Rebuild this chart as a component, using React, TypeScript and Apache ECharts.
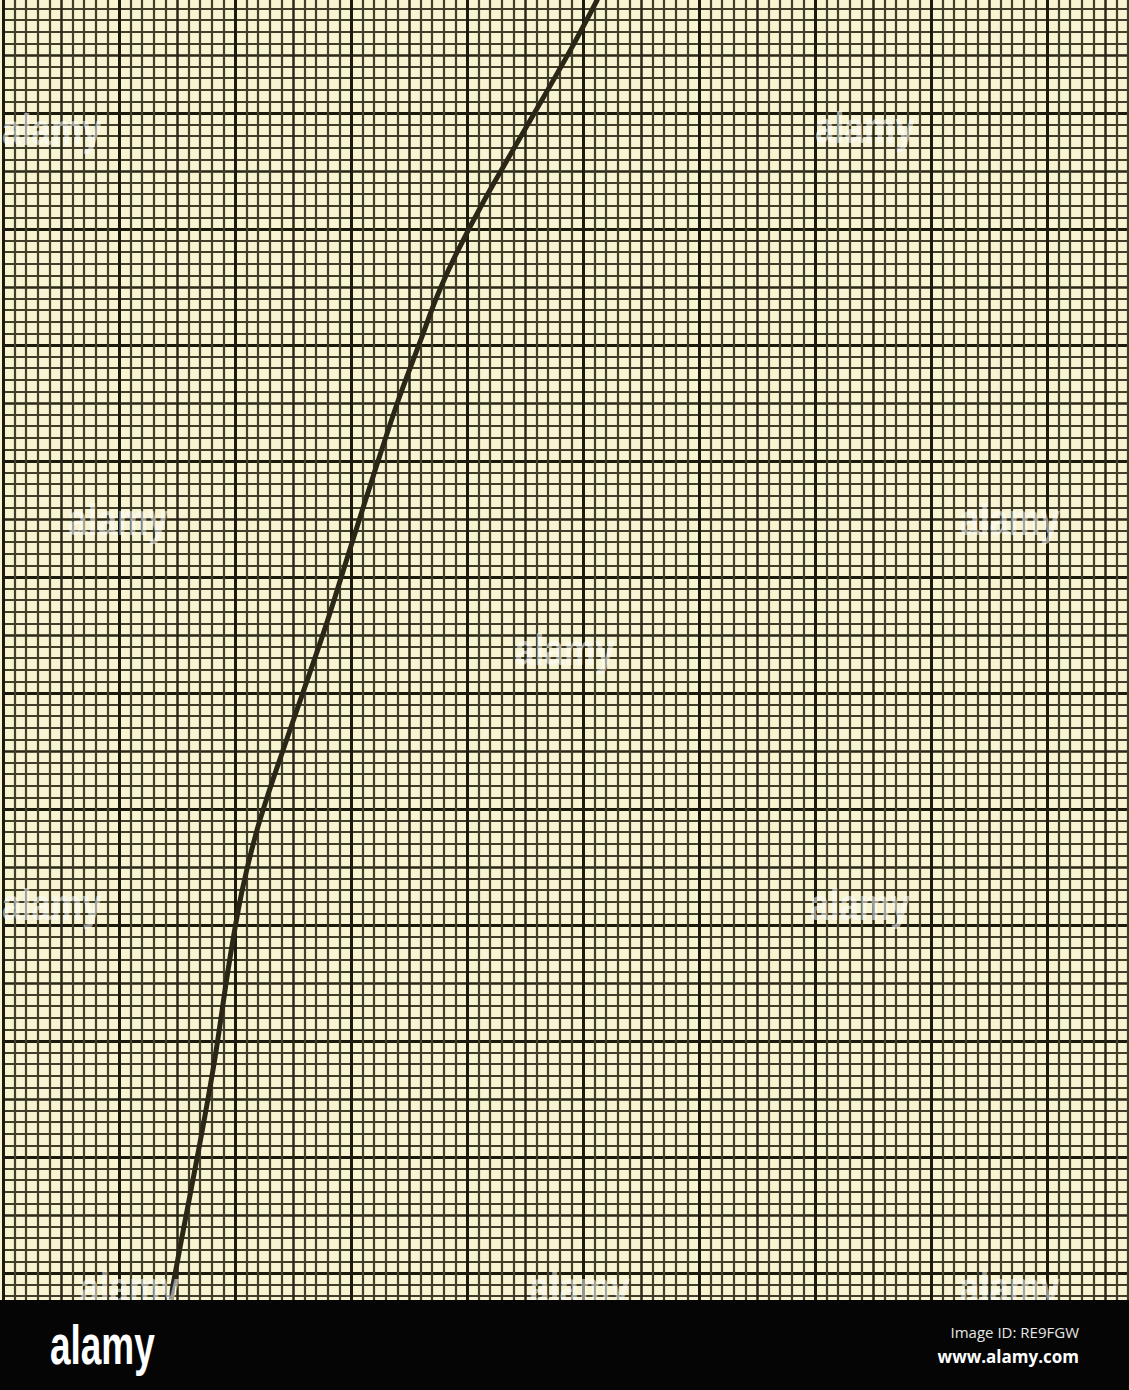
import React, { useEffect, useRef } from "react";
import * as echarts from "echarts";

// Curve, in minor-division units
// x: divisions from the left border, y: divisions from the bottom reference line
const curveX = [14.5, 14.7, 16.1, 17.2, 18.3, 19.4, 20.3, 21.0, 21.9, 22.7, 23.6, 25.6, 27.8, 30.1, 32.3, 34.1, 36.0, 37.3, 38.8, 41.5, 45.7, 48.9, 51.2, 51.3];
const curveY = [7.7, 9.2, 16.6, 22.4, 28.7, 36.1, 41.4, 44.7, 48.2, 50.8, 53.5, 59.3, 65.7, 73.0, 79.9, 85.3, 90.4, 93.9, 97.3, 102.5, 109.8, 115.4, 119.7, 120.0];

const X_MIN = 0;
const X_MAX = 100;
const Y_MIN = 0;
const Y_MAX = 120;
const MEDIUM_STEP = 5;
const HEAVY_STEP = 10;
const MINOR_PER_MEDIUM = 5;

const watermarks = [
  [865, 128], [118, 520], [565, 650], [1010, 520], [860, 905],
  [52, 130], [52, 905], [130, 1288], [580, 1288], [1010, 1288],
];

export default function App() {
  const ref = useRef<HTMLDivElement>(null);
  useEffect(() => {
    if (!ref.current) return;
    const chart = echarts.init(ref.current, undefined, { renderer: "svg" });
    const hidden = {
      axisLine: { show: false },
      axisTick: { show: false },
      axisLabel: { show: false },
    };
    const minorLine = { color: "#413e29", width: 2.2 };
    const mediumLine = { color: "#2a2717", width: 2.5 };
    const heavyLine = { color: "#1c1a0c", width: 3 };
    const data = curveX.map((x, i) => [x, curveY[i]]);
    chart.setOption({
      animation: false,
      backgroundColor: "#f8f4d2",
      grid: {
        left: 3, top: -3, width: 1160, height: 1392,
        containLabel: false, outerBoundsMode: "none",
      },
      xAxis: [
        {
          type: "value", min: X_MIN, max: X_MAX, interval: MEDIUM_STEP, ...hidden,
          splitLine: { show: true, lineStyle: mediumLine },
          minorTick: { show: false, splitNumber: MINOR_PER_MEDIUM },
          minorSplitLine: { show: true, lineStyle: minorLine },
        },
        {
          type: "value", min: X_MIN, max: X_MAX, interval: HEAVY_STEP, position: "top", ...hidden,
          splitLine: { show: true, lineStyle: heavyLine },
        },
      ],
      yAxis: [
        {
          type: "value", min: Y_MIN, max: Y_MAX, interval: MEDIUM_STEP, ...hidden,
          splitLine: { show: true, lineStyle: mediumLine },
          minorTick: { show: false, splitNumber: MINOR_PER_MEDIUM },
          minorSplitLine: { show: true, lineStyle: minorLine },
        },
        {
          type: "value", min: Y_MIN, max: Y_MAX, interval: HEAVY_STEP, position: "right", ...hidden,
          splitLine: { show: true, lineStyle: heavyLine },
        },
      ],
      series: [
        {
          type: "line",
          data,
          xAxisIndex: 0,
          yAxisIndex: 0,
          showSymbol: false,
          smooth: 0.3,
          lineStyle: { color: "#2b2716", width: 5 },
          z: 5,
        },
      ],
      graphic: [
        ...watermarks.map(([x, y]) => ({
          type: "text",
          x, y, z: 50,
          scaleX: 0.8,
          style: {
            text: "alamy",
            fill: "rgba(255,255,255,0.55)",
            font: 'bold 44px "Liberation Sans"',
            align: "center",
            verticalAlign: "middle",
          },
        })),
        {
          type: "rect", z: 100,
          shape: { x: 0, y: 1300, width: 1129, height: 90 },
          style: { fill: "#050505" },
        },
        {
          type: "text", z: 101, x: 50, y: 1317, scaleX: 0.66,
          style: { text: "alamy", fill: "#ffffff", font: 'bold 56px "Liberation Sans"', align: "left", verticalAlign: "top" },
        },
        {
          type: "text", z: 101, x: 1079, y: 1332,
          style: { text: "Image ID: RE9FGW", fill: "#e6e6e6", font: '15px "Open Sans"', align: "right", verticalAlign: "middle" },
        },
        {
          type: "text", z: 101, x: 1079, y: 1356,
          style: { text: "www.alamy.com", fill: "#ffffff", font: 'bold 17px "Open Sans"', align: "right", verticalAlign: "middle" },
        },
      ],
    });
    return () => chart.dispose();
  }, []);
  return (
    <div
      ref={ref}
      style={{ position: "absolute", left: 0, top: 0, width: 1129, height: 1390 }}
    />
  );
}
